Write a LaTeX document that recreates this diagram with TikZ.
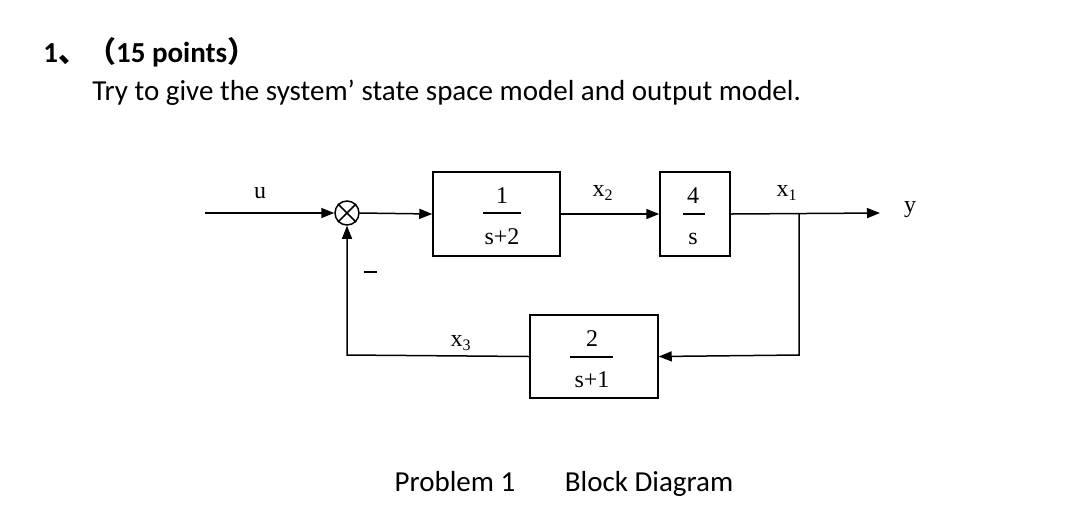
\documentclass[tikz,border=0pt]{standalone}
\usepackage{fontspec}
\setmainfont{Carlito}
\newfontfamily\cjk{Noto Sans CJK SC}
\newfontfamily\tms{Liberation Serif}
\usetikzlibrary{arrows.meta}
\begin{document}
\begin{tikzpicture}[x=0.5pt,y=-0.5pt,
  blk/.style={draw,line width=0.75pt},
  ln/.style={line width=0.75pt},
  arr/.style={ln,-{Triangle[length=6.5pt,width=5pt]}},
  lab/.style={font=\tms\fontsize{12}{14}\selectfont,inner sep=0pt},
  ttl/.style={font=\fontsize{14.5}{16}\selectfont,anchor=west,inner sep=0pt}]
\useasboundingbox (0,0) rectangle (1082,527);
\node[ttl] (h) at (43,52) {\textbf{1{\cjk 、（}15 points{\cjk ）}}};
\node[ttl] (t) at (92,93) {Try to give the system’ state space model and output model.};
% nodes
\node[draw,circle,ln,minimum size=12pt,inner sep=0pt] (c) at (347,213) {};
\draw[ln] (c.north west)--(c.south east) (c.north east)--(c.south west);
\node[blk,minimum width=63.5pt,minimum height=42pt] (b1) at (496.5,214) {};
\node[blk,minimum width=35pt,minimum height=42pt] (b2) at (695,214) {};
\node[blk,minimum width=64pt,minimum height=41.5pt] (b3) at (594,356.5) {};
\coordinate (in) at (205,213);
\coordinate (out) at (880,213);
\coordinate (br) at (799,213);
\coordinate (k1) at (799,355);
\coordinate (k2) at (347,355);
% fractions
\node[lab] (n1) at (502,196) {1};
\node[lab] (d1) at (502,237) {s+2};
\draw[ln] (483,213)--(521,213);
\node[lab] (n2) at (693,196) {4};
\node[lab] (d2) at (693,239) {s};
\draw[ln] (683,214)--(705,214);
\node[lab] (n3) at (592,339) {2};
\node[lab] (d3) at (592,380) {s+1};
\draw[ln] (570,357)--(613,357);
% connectors
\draw[arr] (in)--(c.west);
\draw[arr] (c.east)--(b1.west);
\draw[arr] (b1.east)--(b2.west);
\draw[arr] (b2.east)--(out);
\draw[arr] (br)--(k1)--(b3.east);
\draw[arr] (b3.west)--(k2)--(c.south);
% labels
\node[lab] (u) at (260,193) {u};
\node[lab] (x2) at (603,193) {x\textsubscript{2}};
\node[lab] (x1) at (787,193) {x\textsubscript{1}};
\node[lab] (y) at (910,210) {y};
\node[lab] (x3) at (461,343) {x\textsubscript{3}};
\draw[ln] (364,272)--(377,272);
\node[font=\fontsize{14.5}{16}\selectfont,inner sep=0pt,anchor=base] (p) at (455,491) {Problem 1};
\node[font=\fontsize{14.5}{16}\selectfont,inner sep=0pt,anchor=base] (bd) at (649,491) {Block Diagram};
\end{tikzpicture}
\end{document}
